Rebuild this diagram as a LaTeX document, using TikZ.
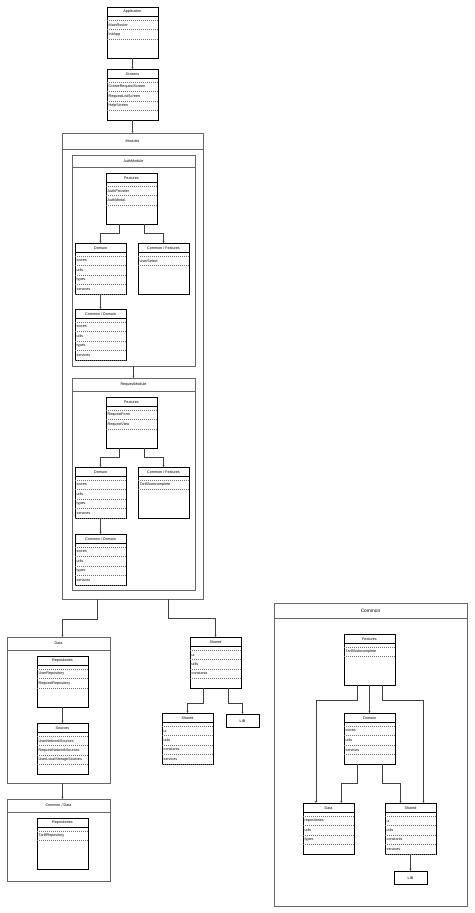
\documentclass[tikz,border=0pt]{standalone}
\usepackage{fontspec}
\setmainfont{Liberation Sans}
\usepackage{tikz}
\usetikzlibrary{arrows.meta}

\newcommand{\umlclass}[5]{%
  \node[umlframe] (#1) at (#2,#3) {};
  \node[umltitle] at ([yshift=-4.75pt]#1.north) {#4};
  \draw[line width=0.35pt] ([yshift=-9.5pt]#1.north west) -- ([yshift=-9.5pt]#1.north east);
  \draw[umlsep] ([yshift=-13pt]#1.north west) -- ([yshift=-13pt]#1.north east);
  \foreach \entry [count=\k] in {#5} {
    \node[umlitem] at ([yshift={-13pt-(\k-0.5)*9.5pt}]#1.north west) {\entry};
    \draw[umlsep] ([yshift={-13pt-\k*9.5pt}]#1.north west) -- ([yshift={-13pt-\k*9.5pt}]#1.north east);
  }%
}
\newcommand{\umlgroup}[7]{%
  \node[groupframe, minimum width=#4pt, minimum height=#5pt] (#1) at (#2,#3) {};
  \draw[draw=black!60] ([yshift=-#6pt]#1.north west) -- ([yshift=-#6pt]#1.north east);
  \node[umltitle] at ([yshift=-#6pt/2]#1.north) {#7};
}

\begin{document}
\begin{tikzpicture}[x=1pt, y=-1pt, >={Stealth[length=2.2pt,width=2pt]},
    every path/.style={line width=0.35pt},
    link/.style={->, draw=black!75},
    umlframe/.style={draw, anchor=north west, minimum width=51pt, minimum height=51pt, inner sep=0pt, outer sep=0pt},
    groupframe/.style={draw=black!60, anchor=north west, inner sep=0pt, outer sep=0pt},
    libframe/.style={draw, anchor=north west, minimum width=33pt, minimum height=13.5pt, inner sep=0pt, outer sep=0pt, font=\fontsize{3.7}{4}\selectfont},
    umltitle/.style={inner sep=0pt, font=\fontsize{3.7}{4}\selectfont},
    umlitem/.style={anchor=west, xshift=1.5pt, inner sep=0pt, font=\fontsize{3.7}{4}\selectfont},
    umlsep/.style={draw=black!55, line width=0.3pt, dash pattern=on 1pt off 1pt}]
          \useasboundingbox (0,0) rectangle (474,913);

          \umlclass{app}{107}{7}{Application}{MainRouter,InitApp}
          \umlclass{scr}{107}{69}{Screens}{CreateRequestScreen,RequestListScreen,HelpScreen}

          \umlgroup{mods}{62}{133}{141}{466}{16}{Modules}
          \umlgroup{auth}{72}{155}{123}{211}{12}{AuthModule}
          \umlclass{featA}{106}{173}{Features}{AuthProvider,AuthModal}
          \umlclass{domA}{75}{243}{Domain}{stores,utils,types,services}
          \umlclass{cfeatA}{138}{243}{Common / Features}{UserSelect}
          \umlclass{cdomA}{75}{309}{Common / Domain}{stores,utils,types,services}

          \umlgroup{req}{72}{378}{123}{212}{13}{RequestModule}
          \umlclass{featB}{106}{397}{Features}{RequestForm,RequestView}
          \umlclass{domB}{75}{467}{Domain}{stores,utils,types,services}
          \umlclass{cfeatB}{138}{467}{Common / Features}{TariffAutocomplete}
          \umlclass{cdomB}{75}{534}{Common / Domain}{stores,utils,types,services}

          \umlgroup{data}{7}{637}{103}{146}{13}{Data}
          \umlclass{repo}{37}{656}{Repositories}{UserRepository,RequestRepository}
          \umlclass{src}{37}{723}{Sources}{UserNetworkSources,RequestNetworkSources,UserLocalStorageSources}

          \umlgroup{cdata}{7}{799}{103}{82}{13}{Common / Data}
          \umlclass{crepo}{37}{818}{Repositories}{TariffRepository}

          \umlclass{shA}{190}{637}{Shared}{ui,utils,constants}
          \umlclass{shB}{162}{713}{Shared}{ui,utils,constants,services}
          \node[libframe] (libA) at (226,714) {LIB};

          \umlgroup{common}{274}{603}{193}{303}{15}{\fontsize{4.8}{5}\selectfont Common}
          \umlclass{featC}{344}{634}{Features}{TariffAutocomplete}
          \umlclass{domC}{344}{713}{Domain}{stores,utils,services}
          \umlclass{dataC}{303}{803}{Data}{repositories,utils,types}
          \umlclass{shC}{385}{803}{Shared}{ui,utils,constants,services}
          \node[libframe] (libC) at (394,871) {LIB};

          \draw[link] (app.south) -- (scr.north);
          \draw[link] (scr.south) -- (mods.north);
          \draw[link] ([xshift=-12.75pt]featA.south) -- ++(0,9) -| (domA.north);
          \draw[link] ([xshift=12.75pt]featA.south) -- ++(0,9) -| (cfeatA.north);
          \draw[link] (domA.south) -- (cdomA.north);
          \draw[link] (auth.south) -- (req.north);
          \draw[link] ([xshift=-12.75pt]featB.south) -- ++(0,9) -| (domB.north);
          \draw[link] ([xshift=12.75pt]featB.south) -- ++(0,9) -| (cfeatB.north);
          \draw[link] (domB.south) -- (cdomB.north);

          \draw[link] ([xshift=-35.25pt]mods.south) -- ++(0,20) -| (repo.north |- data.north);
          \draw[link] ([xshift=35.25pt]mods.south) -- ++(0,19) -| (shA.north);
          \draw[link] (repo.south) -- (src.north);
          \draw[link] (repo.south |- data.south) -- (crepo.north |- cdata.north);
          \draw[link] ([xshift=-12.75pt]shA.south) -- ++(0,15) -| (shB.north);
          \draw[link] ([xshift=12.75pt]shA.south) -- ++(0,15) -| (libA.north);

          \draw[link] (featC.south) -- (domC.north);
          \draw[link] ([xshift=-12.75pt]featC.south) -- ++(0,15) -| ([xshift=-12.75pt]dataC.north);
          \draw[link] ([xshift=12.75pt]featC.south) -- ++(0,15) -| ([xshift=13pt]shC.north);
          \draw[link] ([xshift=-12.75pt]domC.south) -- ++(0,19) -| ([xshift=12.75pt]dataC.north);
          \draw[link] ([xshift=12.75pt]domC.south) -- ++(0,19) -| ([xshift=-10pt]shC.north);
          \draw[link] (shC.south) -- (libC.north);
        \end{tikzpicture}
\end{document}
